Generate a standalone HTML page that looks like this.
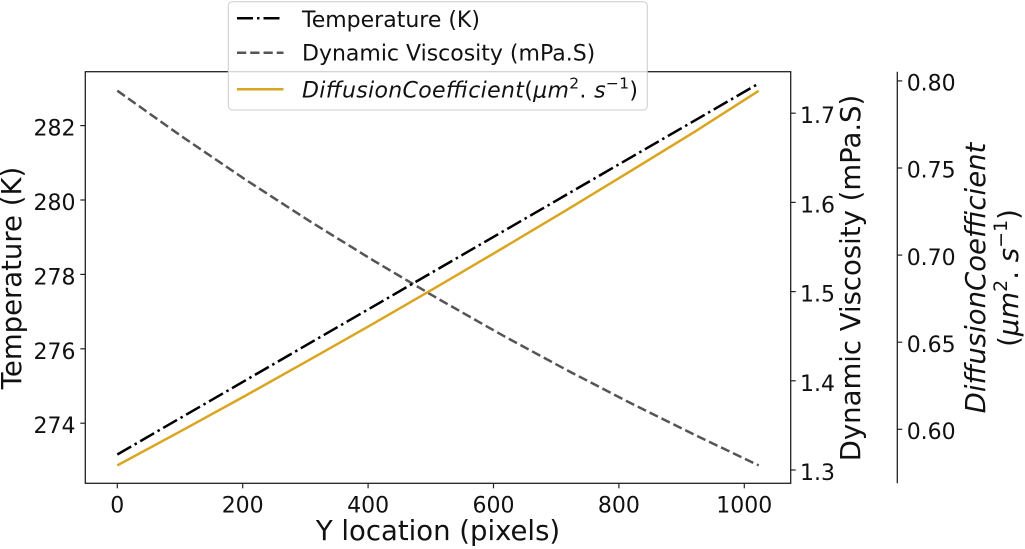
<!DOCTYPE html>
<html><head><meta charset="utf-8"><style>
html,body{margin:0;padding:0;background:#fff;}
svg{display:block;}
text{font-family:"DejaVu Sans","Liberation Sans",sans-serif;fill:#111;}
</style></head><body>
<svg width="1025" height="549" viewBox="0 0 1025 549" xmlns="http://www.w3.org/2000/svg">
<rect x="0" y="0" width="1025" height="549" fill="#fff"/>

<!-- series -->
<polyline points="117.3,90.7 181.4,136.2 245.6,179.7 309.7,221.2 373.9,260.8 438,298.7 502.1,335.1 566.3,369.8 630.4,403 694.6,434.8 758.7,465.4" fill="none" stroke="#555" stroke-width="2.5" stroke-dasharray="9.25 4"/>
<polyline points="117.3,465.4 181.4,430.8 245.6,395.6 309.7,359.7 373.9,323.3 438,286.2 502.1,248.5 566.3,210.2 630.4,171.2 694.6,131.8 758.7,90.8" fill="none" stroke="#DAA520" stroke-width="2.5"/>
<line x1="117.3" y1="454.5" x2="758.7" y2="83.5" stroke="#000" stroke-width="2.5" stroke-dasharray="16 4 2.5 4"/>

<!-- axes frame -->
<rect x="85.3" y="71.7" width="705.4" height="411.6" fill="none" stroke="#222" stroke-width="1.3"/>
<line x1="897.3" y1="71.7" x2="897.3" y2="483.3" stroke="#222" stroke-width="1.3"/>

<!-- left ticks -->
<g stroke="#222" stroke-width="1.2">
<line x1="80.3" y1="125.6" x2="85.3" y2="125.6"/>
<line x1="80.3" y1="200" x2="85.3" y2="200"/>
<line x1="80.3" y1="274.4" x2="85.3" y2="274.4"/>
<line x1="80.3" y1="348.8" x2="85.3" y2="348.8"/>
<line x1="80.3" y1="423.2" x2="85.3" y2="423.2"/>
<!-- bottom ticks -->
<line x1="117.3" y1="483.3" x2="117.3" y2="488.3"/>
<line x1="242.7" y1="483.3" x2="242.7" y2="488.3"/>
<line x1="368.1" y1="483.3" x2="368.1" y2="488.3"/>
<line x1="493.5" y1="483.3" x2="493.5" y2="488.3"/>
<line x1="618.9" y1="483.3" x2="618.9" y2="488.3"/>
<line x1="744.3" y1="483.3" x2="744.3" y2="488.3"/>
<!-- right ticks -->
<line x1="790.7" y1="113.2" x2="795.7" y2="113.2"/>
<line x1="790.7" y1="202.4" x2="795.7" y2="202.4"/>
<line x1="790.7" y1="291.6" x2="795.7" y2="291.6"/>
<line x1="790.7" y1="380.8" x2="795.7" y2="380.8"/>
<line x1="790.7" y1="470" x2="795.7" y2="470"/>
<!-- third axis ticks -->
<line x1="897.3" y1="80.9" x2="902.3" y2="80.9"/>
<line x1="897.3" y1="168" x2="902.3" y2="168"/>
<line x1="897.3" y1="255.1" x2="902.3" y2="255.1"/>
<line x1="897.3" y1="342.2" x2="902.3" y2="342.2"/>
<line x1="897.3" y1="429.3" x2="902.3" y2="429.3"/>
</g>

<!-- left tick labels -->
<g font-size="22" text-anchor="end">
<text x="75.5" y="135.6">282</text>
<text x="75.5" y="210">280</text>
<text x="75.5" y="284.4">278</text>
<text x="75.5" y="358.8">276</text>
<text x="75.5" y="433.2">274</text>
</g>
<!-- bottom tick labels -->
<g font-size="22" text-anchor="middle">
<text x="117.3" y="512.5">0</text>
<text x="242.7" y="512.5">200</text>
<text x="368.1" y="512.5">400</text>
<text x="493.5" y="512.5">600</text>
<text x="618.9" y="512.5">800</text>
<text x="744.3" y="512.5">1000</text>
</g>
<!-- right tick labels -->
<g font-size="22">
<text x="800" y="123.2">1.7</text>
<text x="800" y="212.4">1.6</text>
<text x="800" y="301.6">1.5</text>
<text x="800" y="390.8">1.4</text>
<text x="800" y="480">1.3</text>
</g>
<g font-size="22">
<text x="906.7" y="90.6">0.80</text>
<text x="906.7" y="177.7">0.75</text>
<text x="906.7" y="264.8">0.70</text>
<text x="906.7" y="351.9">0.65</text>
<text x="906.7" y="439">0.60</text>
</g>

<!-- axis labels -->
<text x="438" y="540" font-size="27.5" text-anchor="middle">Y location (pixels)</text>
<g transform="translate(21,278) rotate(-90)"><text x="0" y="0" font-size="27.5" text-anchor="middle">Temperature (K)</text></g>
<g transform="translate(860,278) rotate(-90)"><text x="0" y="0" font-size="27.5" text-anchor="middle">Dynamic Viscosity (mPa.S)</text></g>
<g transform="translate(985,278) rotate(-90)"><text x="0" y="0" font-size="27.5" text-anchor="middle" font-style="italic">DiffusionCoefficient</text></g>
<g transform="translate(1018,278) rotate(-90)"><text x="0" y="0" font-size="27.5" text-anchor="middle">(<tspan font-style="italic">μm</tspan><tspan font-size="19" dy="-11">2</tspan><tspan dy="11">. </tspan><tspan font-style="italic">s</tspan><tspan font-size="19" dy="-11">−1</tspan><tspan dy="11">)</tspan></text></g>

<!-- legend -->
<rect x="228.3" y="1.7" width="419" height="108.3" rx="4" ry="4" fill="#fff" fill-opacity="0.8" stroke="#ccc" stroke-width="1"/>
<line x1="237" y1="18.3" x2="283.5" y2="18.3" stroke="#000" stroke-width="2.5" stroke-dasharray="16 4 2.5 4"/>
<line x1="237" y1="52.7" x2="283.5" y2="52.7" stroke="#555" stroke-width="2.5" stroke-dasharray="9.25 4"/>
<line x1="237" y1="89.3" x2="283.5" y2="89.3" stroke="#DAA520" stroke-width="2.5"/>
<g font-size="22">
<text x="302" y="27">Temperature (K)</text>
<text x="302" y="60.5">Dynamic Viscosity (mPa.S)</text>
<text x="302" y="97.5" textLength="336" lengthAdjust="spacing"><tspan font-style="italic">DiffusionCoefficient</tspan>(<tspan font-style="italic">μm</tspan><tspan font-size="15.5" dy="-9">2</tspan><tspan dy="9">. </tspan><tspan font-style="italic">s</tspan><tspan font-size="15.5" dy="-9">−1</tspan><tspan dy="9">)</tspan></text>
</g>
</svg>
</body></html>
